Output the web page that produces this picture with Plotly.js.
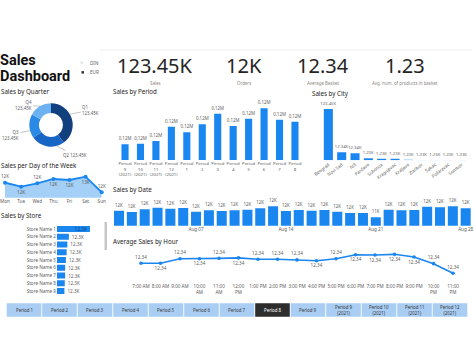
<!DOCTYPE html>
<html><head><meta charset="utf-8">
<script src="https://cdn.plot.ly/plotly-3.0.1.min.js"></script>
<style>html,body{margin:0;padding:0;background:#fff;overflow:hidden}#chart{width:474px;height:355px}</style>
</head><body><div id="chart"></div>
<script>
// ---------------- data ----------------
const quarters = ['Q1','Q2','Q3','Q4'];
const quarterShares = [40, 25, 18, 17];
const quarterLabels = ['123.45K','123.45K','123.45K','123.45K'];

const weekdays = ['Mon','Tue','Wed','Thu','Fri','Sat','Sun'];
const weekdaySales = [12.25, 12.05, 12.22, 12.435, 12.385, 12.55, 11.77];
const weekdayLabelPos = ['top center','bottom center','top center','bottom center','bottom center','bottom center','top center'];

const stores = ['Store Name 1','Store Name 2','Store Name 3','Store Name 4','Store Name 5','Store Name 6','Store Name 7','Store Name 8','Store Name 9'];
const storeSales = [12.339, 12.282, 12.278, 12.276, 12.274, 12.272, 12.272, 12.271, 12.270];

const kpiValues = ['123.45K','12K','12.34','1.23'];
const kpiNames = ['Sales','Orders','Average Basket','Avg. num. of products in basket'];

const periods = ['Period<br>9<br>(2021)','Period<br>10<br>(2021)','Period<br>11<br>(2021)','Period<br>12<br>(2021)','Period<br>1','Period<br>2','Period<br>3','Period<br>4','Period<br>5','Period<br>6','Period<br>7','Period<br>8'];
const periodSales = [0.11867, 0.11877, 0.11923, 0.12166, 0.12071, 0.12207, 0.12387, 0.12178, 0.12302, 0.12479, 0.12285, 0.12251];

const cities = ['Beograd','Novi Sad','Niš','Pančevo','Subotica','Kragujevac','Kraljevo','Zlatibor','Šabac','Požarevac','Sombor'];
const citySales = [123.45, 19.3, 16.8, 4.8, 4.0, 4.0, 1.6, 0.8, 0.8, 0.8, 0.8];
const cityLabels = ['123.45K','12.34K','12.34K','1.23K','1.23K','1.23K','1.23K','1.23K','1.23K','1.23K','1.23K'];

const dates = ['2022-08-01','2022-08-02','2022-08-03','2022-08-04','2022-08-05','2022-08-06','2022-08-07','2022-08-08','2022-08-09','2022-08-10','2022-08-11','2022-08-12','2022-08-13','2022-08-14','2022-08-15','2022-08-16','2022-08-17','2022-08-18','2022-08-19','2022-08-20','2022-08-21','2022-08-22','2022-08-23','2022-08-24','2022-08-25','2022-08-26','2022-08-27','2022-08-28'];
const dateSales = [11.80, 11.64, 11.97, 12.16, 12.04, 12.12, 11.68, 11.85, 11.76, 11.85, 11.92, 12.09, 12.33, 11.76, 11.88, 11.80, 11.88, 11.68, 11.52, 11.52, 11.01, 11.92, 11.85, 11.88, 12.28, 12.21, 12.33, 12.09];
const dateTicks = ['2022-08-07','2022-08-14','2022-08-21','2022-08-28'];

const hours = ['7:00 AM','8:00 AM','9:00 AM','10:00<br>AM','11:00<br>AM','12:00<br>PM','1:00 PM','2:00 PM','3:00 PM','4:00 PM','5:00 PM','6:00 PM','7:00 PM','8:00 PM','9:00 PM','10:00<br>PM','11:00<br>PM'];
const hourSales = [12.3403, 12.3403, 12.3423, 12.3423, 12.3425, 12.3427, 12.3421, 12.3421, 12.3418, 12.3414, 12.3423, 12.3441, 12.3440, 12.3443, 12.3431, 12.3401, 12.3358];
const hourLabelPos = ['top center','bottom center','top center','bottom center','top center','bottom center','top center','top center','top center','bottom center','top center','bottom center','bottom center','bottom center','bottom center','top center','top center'];

const buttons = ['Period 1','Period 2','Period 3','Period 4','Period 5','Period 6','Period 7','Period 8','Period 9','Period 9<br>(2021)','Period 10<br>(2021)','Period 11<br>(2021)','Period 12<br>(2021)'];
const selectedButton = 'Period 8';

// ---------------- helpers ----------------
const W = 474, H = 355;
const X = p => p / W;
const Y = p => 1 - p / H;
const FONT = 'Noto Sans, Open Sans, sans-serif';
const BLUE = '#1a86f0';
const DARK = '#252423';
const GREY = '#605e5c';
const axBase = {showgrid:false, zeroline:false, showline:false, ticks:'', fixedrange:true};
const ax = (o) => Object.assign({}, axBase, o);
const tfont = (s, c) => ({family: FONT, size: s, color: c || GREY});

const traces = [];

// Donut
traces.push({type:'pie', labels: quarters, values: quarterShares, hole: 0.55, sort:false, direction:'clockwise', rotation:0,
  marker:{colors:['#123f7d','#1766c6','#2b8ae6','#6cb1f2'], line:{width:0}}, textinfo:'none', hoverinfo:'skip',
  domain:{x:[X(29.3), X(72.7)], y:[Y(146.7), Y(103.3)]}, showlegend:false});

// Sales by Period
traces.push({type:'bar', x: periods, y: periodSales, xaxis:'x', yaxis:'y', marker:{color: BLUE}, width:0.46,
  texttemplate:'%{y:.2f}M', textposition:'outside', textfont: tfont(4.4), cliponaxis:false, hoverinfo:'skip'});

// Sales by City
traces.push({type:'bar', x: cities, y: citySales, xaxis:'x2', yaxis:'y2', marker:{color: BLUE}, width:0.68,
  text: cityLabels, textposition:'outside', textfont: tfont(4.2), cliponaxis:false, hoverinfo:'skip'});

// Sales by Date
traces.push({type:'bar', x: dates, y: dateSales, xaxis:'x3', yaxis:'y3', marker:{color: BLUE}, width: 0.78*86400000,
  texttemplate:'%{y:.0f}K', textposition:'outside', textfont: tfont(4.4), cliponaxis:false, hoverinfo:'skip'});

// Average Sales by Hour
traces.push({type:'scatter', mode:'lines+markers+text', x: hours, y: hourSales, xaxis:'x4', yaxis:'y4',
  line:{color: BLUE, width:1.6}, marker:{color: BLUE, size:3.6},
  texttemplate:'%{y:.2f}', textposition: hourLabelPos, textfont: tfont(4.6), cliponaxis:false, hoverinfo:'skip'});

// Sales per Day of the Week
traces.push({type:'scatter', mode:'lines+markers+text', x: weekdays, y: weekdaySales, xaxis:'x5', yaxis:'y5',
  fill:'tozeroy', fillcolor:'#a4cff6', line:{color: BLUE, width:1.8}, marker:{color: BLUE, size:4},
  texttemplate:'%{y:.0f}K', textposition: weekdayLabelPos, textfont: tfont(4.6), cliponaxis:false, hoverinfo:'skip'});

// Sales by Store
traces.push({type:'bar', orientation:'h', y: stores, x: storeSales, xaxis:'x6', yaxis:'y6', marker:{color: BLUE}, width:0.8,
  texttemplate:'%{x:.1f}K', textposition: stores.map((s,i)=> i===0 ? 'inside' : 'outside'), insidetextanchor:'end',
  textfont:{family:FONT, size:4.6, color: stores.map((s,i)=> i===0 ? '#0b3f7a' : GREY)}, cliponaxis:false, hoverinfo:'skip'});

// ---------------- layout ----------------
const annotations = [];
const shapes = [];
const addText = (text, px, py, size, opts) => annotations.push(Object.assign({text, x:X(px), y:Y(py), xref:'paper', yref:'paper',
  showarrow:false, xanchor:'left', yanchor:'middle', font:{family:FONT, size, color: DARK}}, opts||{}));

// Dashboard title
addText('<b>Sales</b>', -2, 60, 14.5, {font:{family:'Roboto, sans-serif', size:14.5, color:'#111'}});
addText('<b>Dashboard</b>', -2, 77, 14.5, {font:{family:'Roboto, sans-serif', size:14.5, color:'#111'}});
// legend
shapes.push({type:'rect', xref:'paper', yref:'paper', x0:X(80.5), x1:X(83), y0:Y(64), y1:Y(61.5), fillcolor:'#dfe6ee', line:{width:0}});
shapes.push({type:'rect', xref:'paper', yref:'paper', x0:X(81.5), x1:X(84), y0:Y(73.6), y1:Y(71.1), fillcolor:'#333', line:{width:0}});
addText('DIN', 88, 62.7, 4.6, {font:tfont(4.6)});
addText('EUR', 88, 72.3, 4.6, {font:tfont(4.6)});

// section titles
addText('Sales by Quarter', -1, 91.7, 6.2);
addText('Sales per Day of the Week', -1, 165.5, 6.2);
addText('Sales by Store', -1, 215, 6.2);
addText('Sales by Period', 111, 91.7, 6.2);
addText('Sales by City', 309.5, 93, 6.2);
addText('Sales by Date', 111, 190, 6.2);
addText('Average Sales by Hour', 111, 241.7, 6.2);

// KPIs
const kpiX = [155, 243.5, 323, 405];
kpiValues.forEach((v,i) => {
  addText(v, kpiX[i], 66, 20, {xanchor:'center', font:{family:FONT, size:20, color:DARK}});
  addText(kpiNames[i], kpiX[i], 82.7, 4.4, {xanchor:'center', font:tfont(4.4, '#8a8886')});
});
shapes.push({type:'line', xref:'paper', yref:'paper', x0:X(100), x1:X(472), y0:Y(50), y1:Y(50), line:{color:'#eeeeee', width:1}});

// donut labels with leader lines
const qPos = [[69.8,114.2,21,-4,'left'],[56.6,146,18,9,'left'],[30,130.6,-19.5,4,'right'],[40.2,106.2,-17,-1,'right']];
quarters.forEach((q,i) => {
  const p = qPos[i];
  const txt = i===1 ? q + ' ' + quarterLabels[i] : q + '<br>' + quarterLabels[i];
  annotations.push({text: txt, x:X(p[0]), y:Y(p[1]), xref:'paper', yref:'paper', showarrow:true, arrowhead:0, arrowwidth:0.6,
    arrowcolor:'#a19f9d', ax:p[2], ay:p[3], align:p[4], font:tfont(4.4), standoff:0});
});

// scrollbar of store list
shapes.push({type:'rect', xref:'paper', yref:'paper', x0:X(104.5), x1:X(107), y0:Y(250), y1:Y(222), fillcolor:'#c8c6c4', line:{width:0}});

// period buttons
buttons.forEach((b,i) => {
  const x0 = 6.7 + i*35.5, x1 = x0 + 34.6;
  const sel = b === selectedButton;
  shapes.push({type:'rect', xref:'paper', yref:'paper', x0:X(x0), x1:X(x1), y0:Y(316.7), y1:Y(303.3),
    fillcolor: sel ? '#2d2d2d' : '#a9cdf3', line:{width:0}});
  annotations.push({text:b, x:X((x0+x1)/2), y:Y(310), xref:'paper', yref:'paper', showarrow:false, xanchor:'center', yanchor:'middle',
    font:{family:FONT, size:4.4, color: sel ? '#ffffff' : '#3b3a39'}});
});

const layout = {
  width: W, height: H, margin:{l:0,r:0,t:0,b:0}, paper_bgcolor:'#fff', plot_bgcolor:'rgba(0,0,0,0)',
  showlegend:false, font:{family:FONT}, uniformtext:{mode:false},
  xaxis: ax({domain:[X(117.3), X(302.7)], anchor:'y', type:'category', tickangle:0, tickfont: tfont(4.3)}),
  yaxis: ax({domain:[Y(160), Y(100)], anchor:'x', range:[0.116, 0.1262], showticklabels:false}),
  xaxis2: ax({domain:[X(321.7), X(468.3)], anchor:'y2', type:'category', tickangle:-38, tickfont: tfont(4.4)}),
  yaxis2: ax({domain:[Y(160.3), Y(100)], anchor:'x2', range:[0, 145], showticklabels:false}),
  xaxis3: ax({domain:[X(112.6), X(472.1)], anchor:'y3', type:'date', range:['2022-07-31 12:00','2022-08-28 12:00'],
    tickvals: dateTicks, tickformat:'%b %d', tickangle:0, tickfont: tfont(4.6)}),
  yaxis3: ax({domain:[Y(225.7), Y(198)], anchor:'x3', range:[10, 13.32], showticklabels:false}),
  xaxis4: ax({domain:[X(120.3), X(473.7)], anchor:'y4', type:'category', tickangle:0, tickfont: tfont(4.6)}),
  yaxis4: ax({domain:[Y(282), Y(248)], anchor:'x4', range:[12.33185, 12.34715], showticklabels:false}),
  xaxis5: ax({domain:[X(5), X(101.7)], anchor:'y5', type:'category', range:[0,6], tickangle:0, tickfont: tfont(4.6)}),
  yaxis5: ax({domain:[Y(197.7), Y(172)], anchor:'x5', range:[11.5, 12.785], showticklabels:false}),
  xaxis6: ax({domain:[X(57), X(102)], anchor:'y6', range:[12.25, 12.3715], showticklabels:false}),
  yaxis6: ax({domain:[Y(294.9), Y(225.1)], anchor:'x6', type:'category', range:[8.5,-0.5], tickfont: tfont(4.6)}),
  annotations, shapes
};
traces.forEach(t => { if (t.type === 'bar') t.constraintext = 'none'; });

Plotly.newPlot('chart', traces, layout, {staticPlot:true, displayModeBar:false});
</script></body></html>
